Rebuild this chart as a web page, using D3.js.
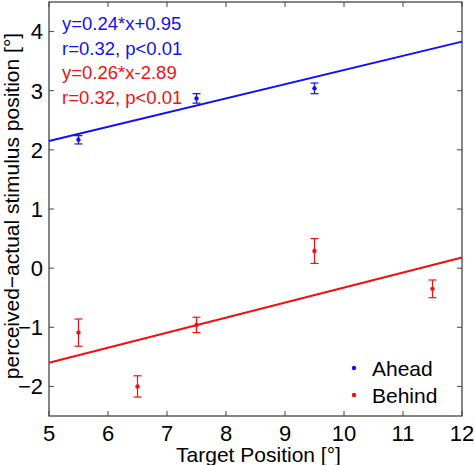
<!DOCTYPE html>
<html>
<head>
<style>
body { margin: 0; background: #fff; }
text { font-family: "Liberation Sans", Arial, sans-serif; }
</style>
<script src="https://d3js.org/d3.v7.min.js"></script>
</head>
<body>
<script>
var xTicks = [5, 6, 7, 8, 9, 10, 11, 12];
var yTicks = [-2, -1, 0, 1, 2, 3, 4];

// Ahead series
var aheadX = [5.5, 7.5, 9.5];
var aheadY = [2.17, 2.87, 3.04];
var aheadErr = [0.07, 0.08, 0.09];
// Behind series
var behindX = [5.5, 6.5, 7.5, 9.5, 11.5];
var behindY = [-1.09, -2.0, -0.96, 0.29, -0.35];
var behindErr = [0.23, 0.18, 0.13, 0.21, 0.15];
// fit lines
var aheadFit = [[5, 2.15], [12, 3.83]];
var behindFit = [[5, -1.6], [12, 0.18]];

var width = 474, height = 465;
var m = {left: 49, right: 12, top: 2, bottom: 49};

var svg = d3.select("body").append("svg")
	.attr("width", width)
	.attr("height", height);

var x = d3.scaleLinear().domain([5, 12]).range([m.left, width - m.right]);
var y = d3.scaleLinear().domain([-2.5, 4.5]).range([height - m.bottom, m.top]);

var blue = "#1010f0", red = "#f01010";

// ticks inward on all four sides
var g = svg.append("g").attr("stroke", "#444").attr("stroke-width", 1);
xTicks.forEach(function(t) {
	g.append("line").attr("x1", x(t)).attr("x2", x(t)).attr("y1", y(-2.5)).attr("y2", y(-2.5) - 5);
	g.append("line").attr("x1", x(t)).attr("x2", x(t)).attr("y1", y(4.5)).attr("y2", y(4.5) + 5);
});
yTicks.forEach(function(t) {
	g.append("line").attr("x1", x(5)).attr("x2", x(5) + 5).attr("y1", y(t)).attr("y2", y(t));
	g.append("line").attr("x1", x(12)).attr("x2", x(12) - 5).attr("y1", y(t)).attr("y2", y(t));
});
svg.append("rect")
	.attr("x", x(5)).attr("y", y(4.5))
	.attr("width", x(12) - x(5)).attr("height", y(-2.5) - y(4.5))
	.attr("fill", "none").attr("stroke", "#444").attr("stroke-width", 1.3);

svg.selectAll(".xt").data(xTicks).enter().append("text")
	.attr("x", function(d) { return x(d); }).attr("y", height - 24)
	.attr("text-anchor", "middle").attr("font-size", 22).text(function(d) { return d; });
svg.selectAll(".yt").data(yTicks).enter().append("text")
	.attr("x", x(5) - 6).attr("y", function(d) { return y(d); }).attr("dy", "0.36em")
	.attr("text-anchor", "end").attr("font-size", 22)
	.text(function(d) { return d < 0 ? "\u2212" + (-d) : d; });

svg.append("text").attr("x", (x(5) + x(12)) / 2 + 3).attr("y", height - 3)
	.attr("text-anchor", "middle").attr("font-size", 21).text("Target Position [\u00b0]");
svg.append("text").attr("transform", "translate(19," + (y(1.05)) + ") rotate(-90)")
	.attr("text-anchor", "middle").attr("font-size", 21).text("perceived\u2212actual stimulus position [\u00b0]");

function series(xs, ys, es, fit, col) {
	svg.append("line")
		.attr("x1", x(fit[0][0])).attr("y1", y(fit[0][1]))
		.attr("x2", x(fit[1][0])).attr("y2", y(fit[1][1]))
		.attr("stroke", col).attr("stroke-width", 2);
	xs.forEach(function(xv, i) {
		var cx = x(xv), top = y(ys[i] + es[i]), bot = y(ys[i] - es[i]);
		var e = svg.append("g").attr("stroke", col).attr("stroke-width", 1.2);
		e.append("line").attr("x1", cx).attr("x2", cx).attr("y1", top).attr("y2", bot);
		e.append("line").attr("x1", cx - 4).attr("x2", cx + 4).attr("y1", top).attr("y2", top);
		e.append("line").attr("x1", cx - 4).attr("x2", cx + 4).attr("y1", bot).attr("y2", bot);
		svg.append("circle").attr("cx", cx).attr("cy", y(ys[i])).attr("r", 2.2).attr("fill", col);
	});
}
series(aheadX, aheadY, aheadErr, aheadFit, blue);
series(behindX, behindY, behindErr, behindFit, red);

var notes = [["y=0.24*x+0.95", blue], ["r=0.32, p<0.01", blue], ["y=0.26*x-2.89", red], ["r=0.32, p<0.01", red]];
notes.forEach(function(n, i) {
	svg.append("text").attr("x", 62).attr("y", 30 + i * 24.5)
		.attr("font-size", 18.5).attr("fill", n[1]).text(n[0]);
});

var legend = [["Ahead", blue], ["Behind", red]];
legend.forEach(function(l, i) {
	var ly = 368 + i * 27;
	svg.append("circle").attr("cx", 354).attr("cy", ly).attr("r", 2.2).attr("fill", l[1]);
	svg.append("text").attr("x", 372).attr("y", ly).attr("dy", "0.36em")
		.attr("font-size", 21).text(l[0]);
});
</script>
</body>
</html>
